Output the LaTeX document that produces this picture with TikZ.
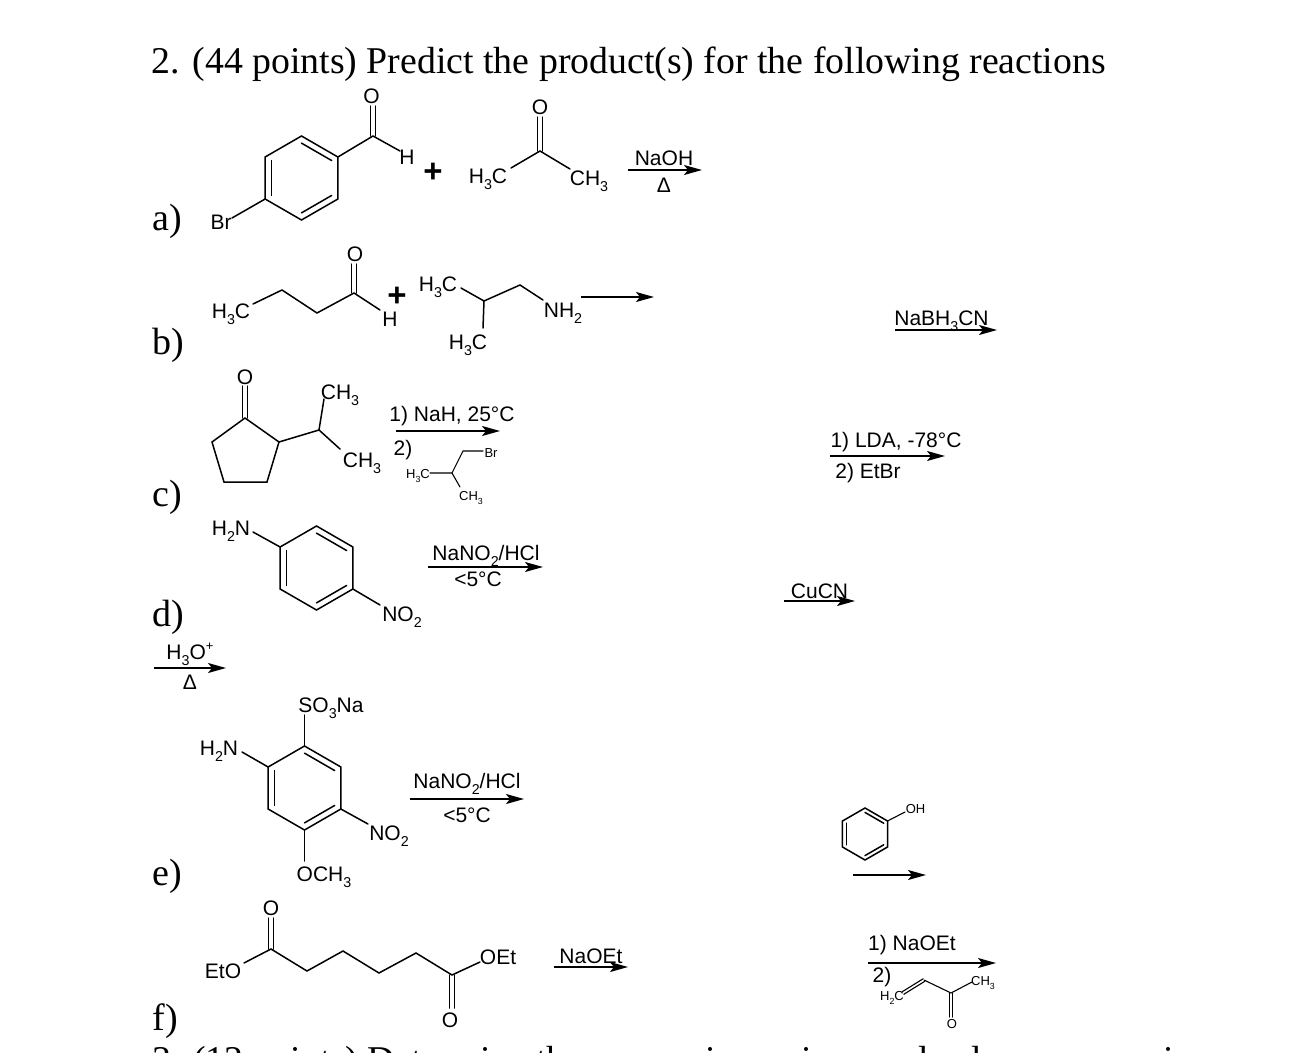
\documentclass[tikz,border=0pt]{standalone}
\usepackage{fontspec}
\usepackage{graphicx}
\setmainfont{Liberation Serif}
\newfontfamily\chemfont{Liberation Sans}
\usetikzlibrary{arrows.meta,calc}
\newcommand\tsb[1]{\raisebox{-.27em}{\scalebox{.68}{#1}}}
\newcommand\tsp[1]{\raisebox{.42em}{\scalebox{.62}{#1}}}
\newcommand\frag[2]{\makebox[0pt][l]{\hspace{#1pt}#2}}
% pointy-top hexagon with atoms <p>1..6 clockwise from the top, double bonds 1-2, 3-4, 5-6
\newcommand\benzring[4]{%
  \coordinate (#1c) at (#2,#3);
  \coordinate (#11) at (#2,#3-#4);
  \coordinate (#12) at (#2+0.866*#4,#3-0.5*#4);
  \coordinate (#13) at (#2+0.866*#4,#3+0.5*#4);
  \coordinate (#14) at (#2,#3+#4);
  \coordinate (#15) at (#2-0.866*#4,#3+0.5*#4);
  \coordinate (#16) at (#2-0.866*#4,#3-0.5*#4);
  \draw[bond,line join=miter] (#11)--(#12)--(#13)--(#14)--(#15)--(#16)--cycle;
  \draw[bond] ($(#11)!.17!(#1c)$)--($(#12)!.17!(#1c)$);
  \draw[bond] ($(#13)!.17!(#1c)$)--($(#14)!.17!(#1c)$);
  \draw[bond] ($(#15)!.17!(#1c)$)--($(#16)!.17!(#1c)$);}
% double bond between two coordinates, offset #3 pixels each side
\newcommand\dblbond[3]{%
  \draw[bond] ($(#1)!#3pt!90:(#2)$)--($(#2)!#3pt!-90:(#1)$);
  \draw[bond] ($(#1)!#3pt!-90:(#2)$)--($(#2)!#3pt!90:(#1)$);}
\tikzset{
  bond/.style={line width=1.5pt,black,line cap=round},
  thinbond/.style={line width=1.1pt,black,line cap=round},
  rxn/.style={line width=1.7pt,black,-{Stealth[length=18pt,width=10pt,inset=4pt]}},
  lab/.style={inner sep=0pt,text height=18pt,text depth=3pt,font=\chemfont\fontsize{21}{23}\selectfont,text=black},
  small/.style={inner sep=0pt,text height=10pt,text depth=1pt,font=\chemfont\fontsize{13}{15}\selectfont,text=black},
  part/.style={inner sep=0pt,font=\fontsize{38}{42}\selectfont,text=black},
  head/.style={inner sep=0pt,anchor=base west,font=\fontsize{37.8}{42}\selectfont,text=black},
  plus/.style={inner sep=0pt,font=\chemfont\bfseries\fontsize{33}{36}\selectfont,text=black}
}
\begin{document}
\begin{tikzpicture}[x=1pt,y=-1pt]
\useasboundingbox[fill=white] (0,0) rectangle (1290,1052);
\clip (0,0) rectangle (1290,1052);
\node[head] (title) at (151.5,73) {2. (44 points) Predict the product(s) for the following reactions};
\node[head] (next) at (152,1072.5) {3. (12 points) Determine the\frag{0}{}};
\node[head] (nextb) at (152,1072.5) {\frag{553}{i}\frag{649}{i}\frag{766}{l}\frag{819}{l}\frag{1011}{i}};
% part labels
\node[part] (pa) at (167,221.5) {a)};
\node[part] (pb) at (168,345.5) {b)};
\node[part] (pc) at (167,497.5) {c)};
\node[part] (pd) at (168,617.5) {d)};
\node[part] (pe) at (167,876.5) {e)};
\node[part] (pf) at (165,1021.5) {f)};
% ---------- a
\benzring{a}{301.5}{178}{42}
\coordinate (aC) at (373,136);
\coordinate (aOe) at (373,106);
\coordinate (aHe) at (400,151);
\coordinate (aBre) at (232,218);
\node[lab] (aO) at (371.5,95.5) {O};
\node[lab] (aH) at (407,157) {H};
\node[lab] (aBr) at (221,222) {Br};
\draw[bond] (a2)--(aC)--(aHe);
\dblbond{aC}{aOe}{2.6}
\draw[bond] (a5)--(aBre);
\node[plus] (aplus) at (433,173) {+};
\coordinate (bC) at (540,151);
\coordinate (bOe) at (540,117);
\coordinate (bLe) at (511,168);
\coordinate (bRe) at (570,169);
\node[lab] (bO) at (540,107) {O};
\node[lab] (bL) at (488,176) {H\tsb{3}C};
\node[lab] (bR) at (589,178) {CH\tsb{3}};
\dblbond{bC}{bOe}{2.6}
\draw[bond] (bLe)--(bC)--(bRe);
\node[lab] (aR1) at (664,158) {NaOH};
\node[lab] (aR2) at (664,185) {Δ};
\coordinate (aA1) at (628,170); \coordinate (aA2) at (702,170);
\draw[rxn] (aA1)--(aA2);
% ---------- b
\node[lab] (cL) at (231,311) {H\tsb{3}C};
\coordinate (cLe) at (253,304);
\coordinate (c1) at (282,290);
\coordinate (c2) at (317,313);
\coordinate (c3) at (354,293);
\coordinate (cOe) at (354,264);
\coordinate (cHe) at (380,310);
\node[lab] (cO) at (355,254) {O};
\node[lab] (cH) at (390,319) {H};
\dblbond{c3}{cOe}{2.6}
\draw[bond] (cLe)--(c1)--(c2)--(c3)--(cHe);
\node[plus] (bplus) at (397,297) {+};
\node[lab] (dL) at (438,284) {H\tsb{3}C};
\coordinate (dLe) at (461,288);
\coordinate (d1) at (484,301);
\coordinate (d2) at (520,285);
\coordinate (dNe) at (543,300);
\coordinate (dBe) at (483,328);
\node[lab] (dN) at (563,310) {NH\tsb{2}};
\node[lab] (dB) at (468,342) {H\tsb{3}C};
\draw[bond] (dLe)--(d1)--(d2)--(dNe);
\draw[bond] (d1)--(dBe);
\coordinate (bA1) at (581,297); \coordinate (bA2) at (654,297);
\draw[rxn] (bA1)--(bA2);
\node[lab] (bR1) at (941.5,318) {NaBH\tsb{3}CN};
\coordinate (bA3) at (895,330); \coordinate (bA4) at (997,330);
\draw[rxn] (bA3)--(bA4);
% ---------- c
\coordinate (e1) at (245,418);
\coordinate (e2) at (279,442);
\coordinate (e3) at (267,482);
\coordinate (e4) at (224,482);
\coordinate (e5) at (212,442);
\coordinate (eOe) at (245,386);
\node[lab] (eO) at (245,377) {O};
\draw[bond,line join=miter] (e1)--(e2)--(e3)--(e4)--(e5)--cycle;
\dblbond{e1}{eOe}{2.6}
\coordinate (e6) at (319,430);
\coordinate (eUe) at (324,399);
\coordinate (eDe) at (340,449);
\node[lab] (eU) at (340,392) {CH\tsb{3}};
\node[lab] (eD) at (362,460) {CH\tsb{3}};
\draw[bond] (e2)--(e6)--(eUe);
\draw[bond] (e6)--(eDe);
\node[lab] (cR1) at (452,414) {1) NaH, 25°C};
\coordinate (cA1) at (396,431); \coordinate (cA2) at (500,431);
\draw[rxn] (cA1)--(cA2);
\node[lab] (cR2) at (403,448) {2)};
\node[small] (fL) at (418,474) {H\tsb{3}C};
\coordinate (fLe) at (430,473);
\coordinate (f1) at (452,473);
\coordinate (f2) at (463,451);
\coordinate (fBre) at (483,451);
\coordinate (fDe) at (460,487);
\node[small] (fBr) at (491,453) {Br};
\node[small] (fD) at (471,496) {CH\tsb{3}};
\draw[thinbond] (fLe)--(f1)--(f2)--(fBre);
\draw[thinbond] (f1)--(fDe);
\node[lab] (cR3) at (896,440) {1) LDA, -78°C};
\coordinate (cA3) at (830,456); \coordinate (cA4) at (945,456);
\draw[rxn] (cA3)--(cA4);
\node[lab] (cR4) at (868,471) {2) EtBr};
% ---------- d
\benzring{g}{316.5}{568}{42}
\coordinate (gNe) at (253,532);
\coordinate (gOe) at (380,605);
\node[lab] (gN) at (231,528) {H\tsb{2}N};
\node[lab] (gNO) at (402,614) {NO\tsb{2}};
\draw[bond] (gNe)--(g6);
\draw[bond] (g3)--(gOe);
\node[lab] (dR1) at (486,553) {NaNO\tsb{2}/HCl};
\coordinate (dA1) at (428,567); \coordinate (dA2) at (543,567);
\draw[rxn] (dA1)--(dA2);
\node[lab] (dR2) at (478,579) {<5°C};
\node[lab] (dR3) at (819.5,591) {CuCN};
\coordinate (dA3) at (784,601); \coordinate (dA4) at (855,601);
\draw[rxn] (dA3)--(dA4);
\node[lab] (dR4) at (190,652) {H\tsb{3}O\tsp{+}};
\coordinate (dA5) at (154,668); \coordinate (dA6) at (226,668);
\draw[rxn] (dA5)--(dA6);
\node[lab] (dR5) at (190,682) {Δ};
% ---------- e
\benzring{h}{304.5}{788}{42}
\node[lab] (hS) at (331,705) {SO\tsb{3}Na};
\node[lab] (hN) at (219,748) {H\tsb{2}N};
\node[lab] (hNO) at (389,833) {NO\tsb{2}};
\node[lab] (hOM) at (324,874) {OCH\tsb{3}};
\coordinate (hSe) at (304.5,715);
\coordinate (hOe) at (304.5,861);
\coordinate (hNe) at (242,752);
\coordinate (hNOe) at (368,824);
\draw[bond] (h1)--(hSe);
\draw[bond] (hNe)--(h6);
\draw[bond] (h3)--(hNOe);
\draw[bond] (h4)--(hOe);
\node[lab] (eR1) at (467,781) {NaNO\tsb{2}/HCl};
\coordinate (eA1) at (410,799); \coordinate (eA2) at (524,799);
\draw[rxn] (eA1)--(eA2);
\node[lab] (eR2) at (467,815) {<5°C};
\benzring{k}{865}{834}{26}
\coordinate (kOe) at (905,812);
\node[small] (kOH) at (915.5,809) {OH};
\draw[thinbond] (k2)--(kOe);
\coordinate (eA3) at (853,875); \coordinate (eA4) at (926,875);
\draw[rxn] (eA3)--(eA4);
% ---------- f
\node[lab] (mL) at (223,971) {EtO};
\coordinate (mLe) at (244,963);
\coordinate (m1) at (271,949);
\coordinate (mOe) at (271,918);
\node[lab] (mO) at (271,908) {O};
\coordinate (m2) at (307,971);
\coordinate (m3) at (343,951);
\coordinate (m4) at (379,973);
\coordinate (m5) at (416,953);
\coordinate (m6) at (452,975);
\coordinate (mRe) at (480,962);
\coordinate (mPe) at (452,1008);
\node[lab] (mP) at (450,1020) {O};
\node[lab] (mR) at (498,957) {OEt};
\draw[bond] (mLe)--(m1)--(m2)--(m3)--(m4)--(m5)--(m6)--(mRe);
\dblbond{m1}{mOe}{2.6}
\dblbond{m6}{mPe}{2.6}
\node[lab] (fR1) at (591,956) {NaOEt};
\coordinate (fA1) at (554,967); \coordinate (fA2) at (628,967);
\draw[rxn] (fA1)--(fA2);
\node[lab] (fR2) at (912,943) {1) NaOEt};
\coordinate (fA3) at (868,963); \coordinate (fA4) at (996,963);
\draw[rxn] (fA3)--(fA4);
\node[lab] (fR3) at (882,975) {2)};
\node[small] (nL) at (892,996) {H\tsb{2}C};
\coordinate (nLe) at (903,993);
\coordinate (n2) at (924,980);
\coordinate (n3) at (951,993);
\coordinate (nOe) at (951,1017);
\coordinate (nRe) at (972,982);
\node[small] (nO) at (952,1024) {O};
\node[small] (nR) at (983,981) {CH\tsb{3}};
\draw[thinbond] ($(nLe)!1.5pt!90:(n2)$)--($(n2)!1.5pt!-90:(nLe)$);
\draw[thinbond] ($(nLe)!1.5pt!-90:(n2)$)--($(n2)!1.5pt!90:(nLe)$);
\draw[thinbond] (n2)--(n3)--(nRe);
\draw[thinbond] ($(n3)!1.5pt!90:(nOe)$)--($(nOe)!1.5pt!-90:(n3)$);
\draw[thinbond] ($(n3)!1.5pt!-90:(nOe)$)--($(nOe)!1.5pt!90:(n3)$);
\end{tikzpicture}
\end{document}
